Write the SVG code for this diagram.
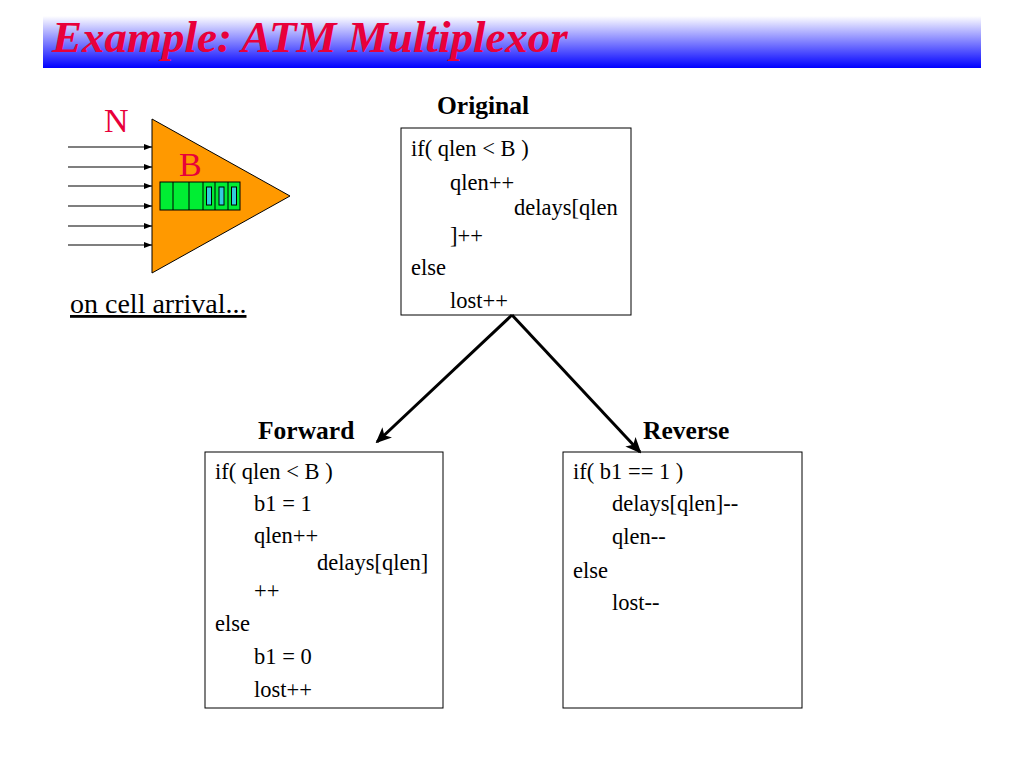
<svg xmlns="http://www.w3.org/2000/svg" width="1024" height="768" viewBox="0 0 1024 768">
<defs>
<linearGradient id="tg" x1="0" y1="0" x2="0" y2="1"><stop offset="0" stop-color="#ffffff"/><stop offset="1" stop-color="#0000ff"/></linearGradient>
<marker id="sa" markerWidth="8" markerHeight="6" refX="8" refY="3" orient="auto" markerUnits="userSpaceOnUse"><path d="M0,0 L8,3 L0,6 Z" fill="#000"/></marker>
<marker id="la" markerWidth="16" markerHeight="14" refX="14" refY="7" orient="auto" markerUnits="userSpaceOnUse"><path d="M0,0 L16,7 L0,14 L4,7 Z" fill="#000"/></marker>
<style>
text{font-family:"Liberation Serif","Times New Roman",serif;fill:#000}
.c{font-size:22.5px}
.h{font-size:25.5px;font-weight:bold}
.box{fill:#fff;stroke:#000;stroke-width:1}
</style>
</defs>
<rect width="1024" height="768" fill="#fff"/>
<rect x="43" y="16" width="938" height="52" fill="url(#tg)"/>
<text x="52" y="52" style="font-size:45px;font-weight:bold;font-style:italic;fill:#e8003a">Example: ATM Multiplexor</text>
<g id="mux">
<polygon points="152,119 290,196 152,273" fill="#ff9900" stroke="#000" stroke-width="1"/>
<g stroke="#000" stroke-width="1.2" marker-end="url(#sa)">
<line x1="68" y1="147" x2="152" y2="147"/><line x1="68" y1="167" x2="152" y2="167"/><line x1="68" y1="186" x2="152" y2="186"/>
<line x1="68" y1="206" x2="152" y2="206"/><line x1="68" y1="226" x2="152" y2="226"/><line x1="68" y1="245" x2="152" y2="245"/>
</g>
<rect x="160" y="182" width="80" height="28" fill="#00ee33" stroke="#000"/>
<g stroke="#000"><line x1="173" y1="182" x2="173" y2="210"/><line x1="189" y1="182" x2="189" y2="210"/><line x1="203" y1="182" x2="203" y2="210"/><line x1="215" y1="182" x2="215" y2="210"/><line x1="228" y1="182" x2="228" y2="210"/></g>
<g fill="#33ccdd" stroke="#000"><rect x="206.5" y="187" width="5" height="18"/><rect x="219" y="187" width="5" height="18"/><rect x="231.5" y="187" width="5" height="18"/></g>
<text x="104" y="132" style="font-size:34px;fill:#e8003a">N</text>
<text x="179" y="176" style="font-size:34px;fill:#e8003a">B</text>
<text x="70" y="313" style="font-size:28px;text-decoration:underline">on cell arrival...</text>
</g>
<g id="original">
<text x="437" y="114" class="h">Original</text>
<rect x="401" y="128" width="230" height="187" class="box"/>
<text class="c" x="411" y="156">if( qlen &lt; B )</text>
<text class="c" x="450" y="190">qlen++</text>
<text class="c" x="514" y="215">delays[qlen</text>
<text class="c" x="450" y="243">]++</text>
<text class="c" x="411" y="275">else</text>
<text class="c" x="450" y="308">lost++</text>
</g>
<g id="forward">
<text x="258" y="439" class="h">Forward</text>
<rect x="205" y="452" width="238" height="256" class="box"/>
<text class="c" x="215" y="479">if( qlen &lt; B )</text>
<text class="c" x="254" y="511">b1 = 1</text>
<text class="c" x="254" y="543">qlen++</text>
<text class="c" x="317" y="570">delays[qlen]</text>
<text class="c" x="254" y="598">++</text>
<text class="c" x="215" y="631">else</text>
<text class="c" x="254" y="664">b1 = 0</text>
<text class="c" x="254" y="697">lost++</text>
</g>
<g id="reverse">
<text x="643" y="439" class="h">Reverse</text>
<rect x="563" y="452" width="239" height="256" class="box"/>
<text class="c" x="573" y="479">if( b1 == 1 )</text>
<text class="c" x="612" y="511">delays[qlen]--</text>
<text class="c" x="612" y="544">qlen--</text>
<text class="c" x="573" y="578">else</text>
<text class="c" x="612" y="610">lost--</text>
</g>
<g id="connectors" stroke="#000" stroke-width="3">
<line x1="512" y1="315" x2="377" y2="442" marker-end="url(#la)"/>
<line x1="512" y1="315" x2="640" y2="452" marker-end="url(#la)"/>
</g>
</svg>
